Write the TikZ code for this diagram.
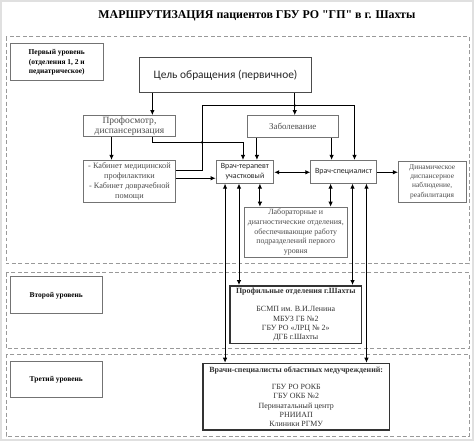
\documentclass[tikz,border=0pt]{standalone}
\usepackage{fontspec}
\setmainfont{Liberation Serif}
\newfontfamily\calibfont{Carlito}
\newfontfamily\titlefont[Ligatures=TeXOff]{Liberation Serif}
\usetikzlibrary{arrows.meta}
\begin{document}
\begin{tikzpicture}[x=1bp,y=-1bp,
  box/.style={draw=black!55,line width=0.8bp,fill=white,inner sep=1bp,align=center,
    text=black!70,font=\fontsize{8}{9.6}\selectfont},
  sbox/.style={box,text=black!85,font=\calibfont\fontsize{8}{9.6}\selectfont},
  lvl/.style={box,text=black,minimum width=93bp,font=\bfseries\fontsize{7.5}{9.3}\selectfont},
  big/.style={box,draw=black!80,line width=1.5bp,text=black!80,font=\fontsize{8}{9.4}\selectfont},
  zone/.style={draw=black!40,line width=0.9bp,dash pattern=on 4bp off 2.5bp},
  arr/.style={-{Latex[length=5bp,width=4.5bp]},line width=0.9bp},
  darr/.style={{Latex[length=5bp,width=4.5bp]}-{Latex[length=5bp,width=4.5bp]},line width=0.9bp}]
% page, title and the three dashed levels
\useasboundingbox[fill=white,draw=black!12,line width=2bp] (0,0) rectangle (474,441);
\node (title) at (257,15) {\titlefont\bfseries\fontsize{12}{14}\selectfont МАРШРУТИЗАЦИЯ пациентов ГБУ РО "ГП" в г. Шахты};
\draw[zone] (5,36) rectangle (470,264);
\draw[zone] (5,273) rectangle (470,349);
\draw[zone] (5,355) rectangle (470,437);
\node[lvl,minimum height=37bp] (lvlA) at (56,61.5) {Первый уровень\\(отделения 1, 2 и\\педиатрическое)};
\node[lvl,minimum height=37bp] (lvlB) at (55.5,295.5) {Второй уровень};
\node[lvl,minimum height=36bp] (lvlC) at (55.5,380) {Третий уровень};
\node[sbox,draw=black!70,minimum width=173bp,minimum height=35bp,
  font=\calibfont\fontsize{11.5}{13}\selectfont] (cel) at (225.5,74.5) {Цель обращения (первичное)};
\node[box,inner sep=0bp,minimum width=92bp,minimum height=21bp,font=\fontsize{9.6}{9.6}\selectfont] (prof) at (129,125.5) {Профосмотр,\\диспансеризация};
\node[box,minimum width=92bp,minimum height=22bp,font=\fontsize{9}{10}\selectfont] (zab) at (293,126) {Заболевание};
\node[box,minimum width=92bp,minimum height=42bp,font=\fontsize{8.3}{10}\selectfont] (kab) at (129,181) {- Кабинет медицинской\\профилактики\\- Кабинет доврачебной\\помощи};
\node[sbox,minimum width=58bp,minimum height=23bp] (ter) at (245,171.5) {Врач-терапевт\\участковый};
\node[sbox,minimum width=66bp,minimum height=23bp] (spec) at (344,171.5) {Врач-специалист};
\node[box,minimum width=68bp,minimum height=41bp,font=\fontsize{7.5}{9.3}\selectfont] (dyn) at (433,181.5) {Динамическое\\диспансерное\\наблюдение,\\реабилитация};
\node[box,minimum width=104bp,minimum height=50bp] (lab) at (296,232) {Лабораторные и\\диагностические отделения,\\обеспечивающие работу\\подразделений первого\\уровня};
\node[big,minimum width=132bp,minimum height=58bp] (prf) at (296,315) {\textbf{Профильные отделения г.Шахты}\\[9bp]БСМП им. В.И.Ленина\\МБУЗ ГБ №2\\ГБУ РО «ЛРЦ № 2»\\ДГБ г.Шахты};
\node[big,minimum width=187bp,minimum height=67bp] (obl) at (296.5,397.5) {\textbf{Врачи-специалисты областных медучреждений:}\\[8bp]ГБУ РО РОКБ\\ГБУ ОКБ №2\\Перинатальный центр\\РНИИАП\\Клиники РГМУ};
% columns and junctions of the connectors
\coordinate (cProf) at (152,0);
\coordinate (cKab) at (111,0);
\coordinate (cZab) at (295,0);
\coordinate (cTerZ) at (257,0);
\coordinate (cTerP) at (243,0);
\coordinate (cSpecZ) at (332,0);
\coordinate (cSpecK) at (355,0);
\coordinate (cTerL) at (260,0);
\coordinate (cSpecL) at (331,0);
\coordinate (cTerB) at (239,0);
\coordinate (cTerC) at (225,0);
\coordinate (cSpecB) at (353,0);
\coordinate (cSpecC) at (367,0);
\coordinate (rKabS) at (0,170);
\coordinate (rKabT) at (0,178);
\coordinate (rMid) at (0,172);
\coordinate (busL) at (202,105);
\coordinate (jZab) at (295,105);
\coordinate (jProf) at (202,142);
\draw[arr] (cel.south -| cProf) -- (prof.north -| cProf);
\draw[arr] (cel.south -| cZab) -- (zab.north -| cZab);
\fill (jZab) circle (1.4bp);
\draw[arr] (kab.east |- rKabS) -| (busL) -| (spec.north -| cSpecK);
\draw[arr] (prof.south -| cProf) |- (jProf) -| (ter.north -| cTerP);
\fill (jProf) circle (1.4bp);
\draw[arr] (prof.south -| cKab) -- (kab.north -| cKab);
\draw[arr] (kab.east |- rKabT) -- (ter.west |- rKabT);
\draw[arr] (zab.south -| cTerZ) -- (ter.north -| cTerZ);
\draw[arr] (zab.south -| cSpecZ) -- (spec.north -| cSpecZ);
\draw[darr] (ter.east |- rMid) -- (spec.west |- rMid);
\draw[arr] (spec.east |- rMid) -- (dyn.west |- rMid);
\draw[darr] (ter.south -| cTerL) -- (lab.north -| cTerL);
\draw[darr] (spec.south -| cSpecL) -- (lab.north -| cSpecL);
\draw[darr] (ter.south -| cTerB) -- (prf.north -| cTerB);
\draw[darr] (ter.south -| cTerC) -- (obl.north -| cTerC);
\draw[darr] (spec.south -| cSpecB) -- (prf.north -| cSpecB);
\draw[darr] (spec.south -| cSpecC) -- (obl.north -| cSpecC);
\end{tikzpicture}
\end{document}
